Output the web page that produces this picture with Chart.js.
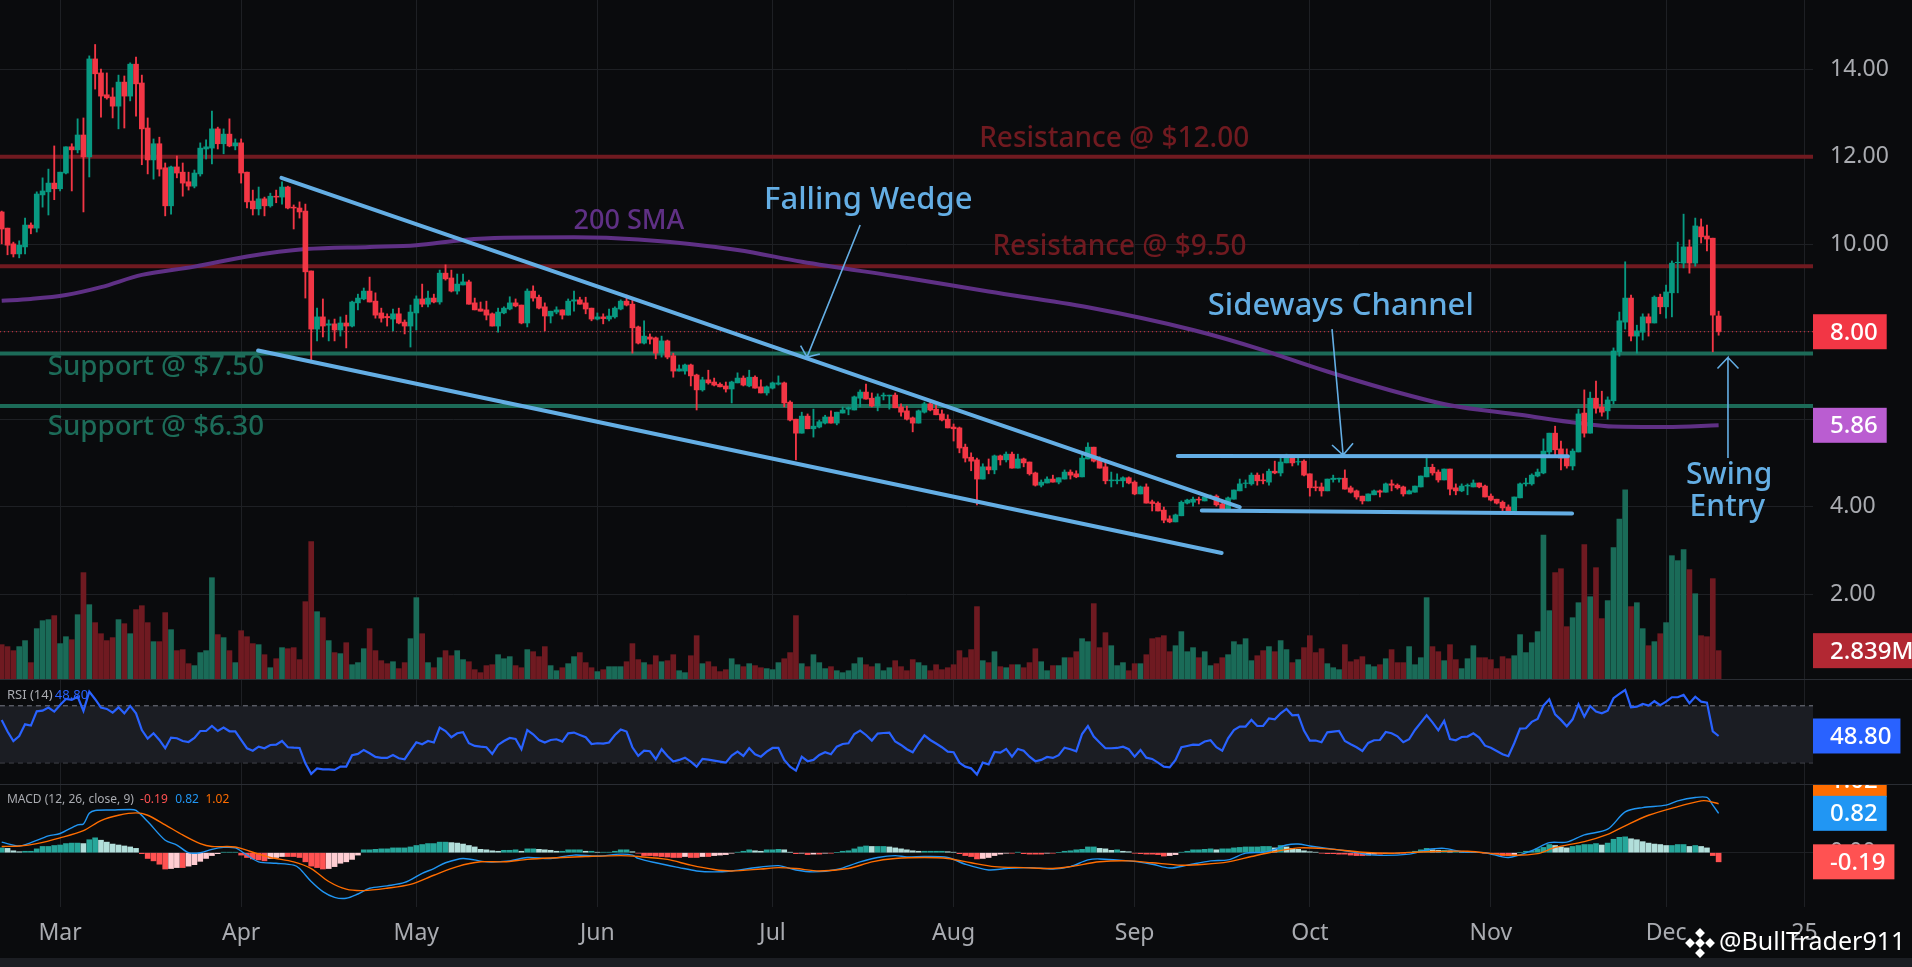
<!DOCTYPE html>
<html>
<head>
<meta charset="utf-8">
<title>BullTrader911 chart</title>
<script src="https://cdn.jsdelivr.net/npm/chart.js@4"></script>
<style>
  html, body { margin: 0; width: 1912px; height: 967px; background: #0a0b0d; overflow: hidden; }
  canvas { position: absolute; left: 0; }
  .rule { position: absolute; left: 0; width: 1912px; height: 1px; background: #2a2d33; }
  .strip { position: absolute; left: 0; top: 958px; width: 1912px; height: 9px; background: #1c1e23; }
</style>
</head>
<body>
<div class="strip"></div>
<canvas id="priceChart" width="1912" height="680" style="top:0"></canvas>
<canvas id="rsiChart" width="1912" height="105" style="top:680px"></canvas>
<canvas id="macdChart" width="1912" height="182" style="top:785px"></canvas>
<div class="rule" style="top:679px"></div>
<div class="rule" style="top:784px"></div>
<script>
// Daily candles, one entry per day starting 20 Feb
const opens = [
  10.74,10.37,10.01,9.78,9.94,10.44,10.37,11.13,11.20,11.40,
  11.27,11.63,12.23,12.16,12.50,12.00,14.24,13.92,13.42,13.37,
  13.16,13.71,13.39,14.12,13.69,12.66,11.93,12.30,11.75,10.88,
  11.77,11.65,11.43,11.33,11.61,12.18,12.20,12.64,12.30,12.52,
  12.25,12.32,11.65,10.99,10.81,11.04,10.88,11.10,11.08,11.31,
  10.85,10.83,10.76,9.39,8.06,8.34,8.15,8.18,8.04,8.20,
  8.13,8.66,8.75,8.93,8.70,8.43,8.35,8.29,8.41,8.22,
  8.13,8.43,8.75,8.63,8.77,8.68,9.34,9.23,8.93,9.07,
  9.14,8.66,8.52,8.50,8.41,8.13,8.43,8.52,8.66,8.61,
  8.20,8.93,8.79,8.57,8.36,8.45,8.50,8.38,8.70,8.73,
  8.66,8.54,8.29,8.34,8.29,8.34,8.52,8.70,8.63,8.11,
  7.74,7.88,7.86,7.51,7.79,7.45,7.10,7.10,7.24,7.01,
  6.67,6.90,6.85,6.80,6.76,6.69,6.83,6.94,6.76,6.96,
  6.74,6.60,6.71,6.80,6.83,6.39,6.00,5.68,6.07,5.78,
  5.82,5.91,6.05,5.91,6.14,6.23,6.21,6.48,6.62,6.48,
  6.30,6.53,6.53,6.55,6.28,6.19,6.03,5.91,6.16,6.35,
  6.23,6.12,6.00,5.82,5.80,5.36,5.13,5.07,4.63,4.91,
  4.84,5.16,5.07,5.20,4.88,5.09,5.02,4.77,4.49,4.54,
  4.63,4.56,4.63,4.79,4.75,4.68,5.09,5.36,5.07,4.91,
  4.59,4.59,4.59,4.66,4.56,4.29,4.45,4.11,4.08,3.92,
  3.72,3.65,3.79,4.08,4.10,4.17,4.13,4.20,4.24,4.06,
  3.95,4.17,4.36,4.53,4.52,4.72,4.61,4.56,4.81,4.77,
  5.00,5.16,5.02,5.04,4.75,4.45,4.45,4.36,4.62,4.63,
  4.65,4.43,4.36,4.24,4.13,4.27,4.36,4.33,4.52,4.49,
  4.45,4.29,4.33,4.45,4.68,4.90,4.79,4.61,4.86,4.43,
  4.36,4.47,4.45,4.54,4.47,4.24,4.17,4.10,3.99,3.90,
  4.20,4.52,4.52,4.70,4.77,5.25,5.68,5.32,5.13,4.93,
  5.25,6.14,5.68,6.48,6.28,6.19,6.42,7.54,8.22,8.77,
  7.90,7.99,8.34,8.20,8.79,8.57,8.89,9.58,9.57,9.94,
  9.57,10.40,10.19,10.14,8.36
];
const highs = [
  10.76,10.37,10.05,10.08,10.60,10.49,11.20,11.52,11.72,12.25,
  11.65,12.23,12.30,12.87,12.89,14.31,14.57,14.01,13.92,13.58,
  13.87,13.85,14.15,14.28,13.87,12.89,12.41,12.45,11.86,11.79,
  12.02,11.86,11.65,11.70,12.32,12.39,13.05,12.68,12.64,12.87,
  12.41,12.41,11.65,11.24,11.31,11.08,11.17,11.24,11.43,11.33,
  10.90,10.97,10.92,9.39,8.54,8.75,8.27,8.29,8.34,8.38,
  8.70,8.86,9.00,9.25,8.89,8.54,8.41,8.52,8.54,8.27,
  8.61,8.82,9.09,8.93,8.86,9.41,9.53,9.41,9.32,9.32,
  9.18,8.77,8.68,8.70,8.43,8.54,8.57,8.80,8.75,8.61,
  8.98,9.05,8.84,8.66,8.47,8.57,8.50,8.75,8.93,8.79,
  8.79,8.54,8.43,8.41,8.52,8.57,8.73,8.84,8.73,8.13,
  8.25,7.95,7.88,7.90,7.81,7.51,7.24,7.26,7.26,7.03,
  6.96,7.12,6.94,6.83,6.85,6.87,7.06,6.99,7.12,6.99,
  6.90,6.76,6.85,6.99,6.85,6.42,6.00,6.16,6.12,6.23,
  5.98,6.09,6.19,6.16,6.28,6.28,6.53,6.67,6.80,6.60,
  6.58,6.60,6.55,6.60,6.35,6.30,6.05,6.21,6.39,6.42,
  6.39,6.21,6.10,5.89,5.82,5.43,5.23,5.11,4.98,5.09,
  5.18,5.18,5.25,5.25,5.20,5.11,5.02,4.79,4.61,4.68,
  4.72,4.66,4.84,4.84,4.82,5.18,5.46,5.36,5.14,5.07,
  4.79,4.75,4.68,4.68,4.59,4.47,4.52,4.15,4.11,3.99,
  3.79,3.83,4.13,4.17,4.22,4.22,4.27,4.27,4.27,4.08,
  4.22,4.38,4.63,4.61,4.77,4.77,4.75,4.86,5.04,5.11,
  5.20,5.18,5.13,5.07,4.75,4.59,4.54,4.63,4.72,4.65,
  4.84,4.47,4.38,4.24,4.29,4.38,4.38,4.54,4.61,4.52,
  4.47,4.38,4.47,4.70,5.18,4.97,4.84,4.86,4.86,4.52,
  4.52,4.52,4.61,4.54,4.49,4.29,4.17,4.13,4.04,4.22,
  4.54,4.65,4.75,4.86,5.55,5.68,5.84,5.50,5.32,5.32,
  6.23,6.67,6.62,6.87,6.64,6.51,7.63,8.45,9.60,8.84,
  8.15,8.41,8.41,8.82,8.86,9.07,9.62,10.05,10.69,10.10,
  10.60,10.58,10.44,10.14,8.47
];
const lows = [
  10.01,9.76,9.71,9.69,9.78,10.24,10.28,10.85,10.67,11.02,
  11.22,11.61,11.22,12.09,10.74,11.54,13.55,12.91,13.32,12.89,
  12.64,12.66,13.28,12.93,11.82,11.61,11.49,11.56,10.65,10.69,
  11.52,11.10,11.24,11.29,11.56,11.95,11.84,12.18,12.07,12.23,
  12.16,11.40,10.83,10.67,10.67,10.65,10.85,10.95,10.92,10.81,
  10.35,10.60,8.77,7.29,7.79,7.88,7.79,7.79,7.90,7.63,
  8.11,8.50,8.73,8.68,8.31,8.22,8.13,8.02,8.18,7.95,
  7.65,8.04,8.57,8.57,8.66,8.63,9.18,8.91,8.86,9.07,
  8.63,8.50,8.47,8.27,8.13,7.99,8.41,8.50,8.57,8.18,
  8.11,8.70,8.52,8.02,8.20,8.41,8.29,8.38,8.47,8.63,
  8.41,8.25,8.27,8.18,8.25,8.31,8.50,8.59,7.51,7.72,
  7.72,7.72,7.38,7.42,7.38,6.96,7.10,7.03,6.76,6.21,
  6.64,6.80,6.76,6.74,6.62,6.37,6.83,6.76,6.74,6.71,
  6.60,6.55,6.69,6.78,6.28,5.96,5.07,5.68,5.78,5.59,
  5.80,5.89,5.91,5.87,6.14,6.10,6.21,6.28,6.46,6.28,
  6.19,6.44,6.23,6.26,6.07,5.98,5.71,5.91,6.14,6.19,
  6.10,5.96,5.80,5.50,5.23,5.02,4.82,4.04,4.63,4.75,
  4.75,4.95,5.02,4.88,4.88,4.91,4.72,4.47,4.45,4.54,
  4.56,4.52,4.63,4.63,4.66,4.68,5.09,5.02,4.88,4.52,
  4.45,4.52,4.45,4.52,4.27,4.29,4.08,3.90,3.90,3.63,
  3.63,3.65,3.79,4.06,4.01,4.06,4.13,4.20,4.01,3.92,
  3.95,4.17,4.36,4.43,4.49,4.49,4.52,4.49,4.75,4.70,
  5.00,4.93,4.95,4.70,4.24,4.36,4.24,4.36,4.56,4.56,
  4.40,4.31,4.17,4.06,4.13,4.27,4.22,4.33,4.36,4.40,
  4.24,4.29,4.33,4.45,4.68,4.72,4.56,4.61,4.27,4.27,
  4.34,4.27,4.45,4.43,4.22,4.13,4.06,3.90,3.83,3.90,
  4.20,4.47,4.49,4.68,4.75,5.18,5.13,4.84,4.88,4.84,
  5.25,5.59,5.68,6.14,6.07,6.00,6.35,7.44,8.06,7.79,
  7.51,7.81,7.90,8.20,8.41,8.31,8.34,8.89,9.46,9.34,
  9.50,10.03,9.85,7.54,7.92
];
const closes = [
  10.35,9.98,9.78,9.98,10.44,10.37,11.15,11.22,11.40,11.27,
  11.65,12.23,12.16,12.50,12.00,14.24,13.90,13.39,13.35,13.16,
  13.71,13.39,14.12,13.67,12.64,11.93,12.30,11.72,10.88,11.77,
  11.63,11.40,11.33,11.63,12.20,12.23,12.64,12.30,12.52,12.25,
  12.32,11.63,10.97,10.81,11.04,10.88,11.10,11.08,11.31,10.83,
  10.83,10.74,9.37,8.06,8.34,8.13,8.18,8.04,8.20,8.13,
  8.68,8.77,8.93,8.68,8.38,8.31,8.32,8.41,8.20,8.13,
  8.45,8.75,8.63,8.77,8.68,9.34,9.21,8.93,9.09,9.14,
  8.63,8.50,8.47,8.38,8.13,8.45,8.54,8.66,8.59,8.20,
  8.93,8.77,8.54,8.36,8.47,8.50,8.38,8.70,8.73,8.63,
  8.52,8.29,8.34,8.30,8.36,8.54,8.70,8.61,8.09,7.74,
  7.90,7.83,7.51,7.79,7.42,7.10,7.15,7.24,6.99,6.67,
  6.90,6.83,6.78,6.74,6.69,6.85,6.94,6.78,6.96,6.71,
  6.60,6.74,6.83,6.83,6.37,5.98,5.68,6.07,5.78,5.84,
  5.94,6.05,5.91,6.16,6.21,6.26,6.51,6.62,6.46,6.30,
  6.51,6.55,6.55,6.26,6.16,6.00,5.91,6.19,6.35,6.21,
  6.10,5.98,5.80,5.78,5.34,5.11,5.04,4.63,4.91,4.84,
  5.16,5.07,5.20,4.88,5.09,5.00,4.75,4.49,4.56,4.63,
  4.56,4.66,4.79,4.72,4.68,5.11,5.36,5.04,4.88,4.59,
  4.61,4.61,4.66,4.54,4.29,4.45,4.08,4.07,3.90,3.69,
  3.65,3.81,4.10,4.15,4.17,4.15,4.22,4.24,4.04,3.95,
  4.20,4.38,4.52,4.54,4.72,4.59,4.59,4.81,4.77,5.02,
  5.16,5.00,5.03,4.72,4.43,4.43,4.36,4.63,4.65,4.65,
  4.40,4.33,4.22,4.13,4.29,4.36,4.33,4.52,4.49,4.43,
  4.29,4.36,4.47,4.70,4.90,4.77,4.61,4.86,4.40,4.36,
  4.47,4.49,4.54,4.45,4.22,4.15,4.08,3.97,3.90,4.22,
  4.52,4.54,4.72,4.79,5.27,5.68,5.30,5.11,4.93,5.27,
  6.12,5.68,6.48,6.25,6.16,6.44,7.56,8.25,8.77,7.90,
  8.02,8.34,8.20,8.79,8.57,8.91,9.57,9.59,9.94,9.57,
  10.42,10.17,10.12,8.38,8.00
];
// Volume in millions
const volumes = [
  3.42,3.23,2.84,3.23,3.81,1.68,4.97,5.74,5.84,6.23,
  3.52,4.19,3.90,6.32,10.39,7.29,5.55,4.48,3.81,4.10,
  5.84,5.45,4.48,6.81,7.19,5.55,3.71,3.71,6.52,4.87,
  2.84,2.94,1.58,1.39,2.65,2.84,9.90,4.39,4.10,2.84,
  1.68,4.77,4.19,3.52,3.42,2.45,1.19,2.06,3.13,3.03,
  3.13,1.97,7.58,13.39,6.61,6.03,3.81,2.65,2.55,3.61,
  1.48,1.68,3.03,4.97,2.84,1.87,1.58,1.77,1.10,1.68,
  4.00,7.97,4.48,1.68,1.19,2.16,2.84,2.35,2.84,1.97,
  1.77,1.00,0.71,1.39,1.48,2.45,2.06,2.26,1.39,1.19,
  2.94,2.74,2.26,3.23,1.39,0.90,1.19,1.58,2.26,2.65,
  1.68,1.19,0.81,1.00,1.29,1.29,1.29,1.77,3.52,1.97,
  1.68,1.48,2.35,1.77,1.87,2.45,0.90,0.71,2.35,4.29,
  1.58,1.77,1.29,0.81,1.00,2.06,1.48,1.29,1.58,1.39,
  1.19,1.10,1.00,1.68,2.06,2.65,6.23,1.58,1.29,2.45,
  1.68,1.10,1.29,0.90,0.71,0.90,1.58,2.16,1.48,1.29,
  1.58,0.90,1.19,1.87,1.29,0.90,1.97,1.68,1.39,0.90,
  1.48,1.00,1.19,1.48,2.84,2.16,2.94,7.10,1.87,1.68,
  2.74,1.29,1.19,1.48,1.48,1.19,1.68,3.03,1.77,0.90,
  1.39,1.39,2.16,2.16,2.74,4.00,3.71,7.39,3.13,4.58,
  3.32,1.39,1.68,0.90,1.58,1.58,2.45,4.00,4.10,4.29,
  2.74,3.32,4.68,2.74,3.13,2.16,2.74,1.39,1.58,2.16,
  2.45,3.71,3.42,4.00,1.87,2.35,2.84,3.23,2.74,3.81,
  2.94,1.68,1.97,3.13,4.29,2.65,3.03,1.58,1.19,1.00,
  3.42,1.77,1.97,2.26,1.48,1.29,1.48,2.06,2.94,1.68,
  1.68,3.23,1.48,2.16,7.97,3.23,2.74,1.87,3.42,1.97,
  1.10,2.06,3.32,2.16,2.16,1.97,1.10,2.26,2.06,2.35,
  4.39,2.65,3.61,4.68,14.03,6.71,10.39,10.77,5.16,6.03,
  7.48,13.10,8.06,10.87,5.94,7.68,12.81,15.58,18.39,7.10,
  7.48,4.97,3.32,3.71,4.48,5.55,12.03,11.55,12.61,10.68,
  8.35,4.29,4.19,9.81,2.839
];
const rsiValues = [
  60.1,51.9,45.3,48.8,57.0,56.1,66.1,66.6,68.7,65.9,
  70.6,74.8,74.1,76.4,66.4,79.9,74.6,68.7,67.8,65.2,
  68.9,64.7,69.9,64.7,53.0,47.0,50.7,46.0,40.2,47.7,
  47.2,45.3,44.6,47.4,52.3,52.3,55.8,52.3,54.7,52.1,
  52.1,46.0,40.2,38.5,41.3,40.2,42.5,42.7,45.3,40.9,
  40.6,40.4,29.6,22.2,26.1,25.4,25.4,25.0,27.3,27.3,
  35.3,36.2,39.0,36.7,34.1,33.4,33.4,35.5,33.2,32.5,
  38.5,44.4,43.0,45.3,44.2,54.7,52.3,47.9,50.7,51.4,
  43.7,41.8,41.3,40.9,36.2,42.5,45.3,47.4,46.7,39.5,
  53.0,50.0,46.0,44.2,46.0,46.5,44.9,50.7,51.2,49.5,
  47.9,43.2,43.7,43.5,44.2,49.5,53.3,51.9,40.9,34.8,
  38.5,38.1,32.5,39.5,34.8,30.8,32.0,33.6,30.8,27.3,
  32.7,32.2,31.5,30.8,30.1,35.0,37.8,34.8,40.2,36.0,
  34.3,37.8,40.4,40.4,32.0,27.3,24.5,34.3,31.1,32.0,
  35.5,37.4,36.0,41.3,43.2,43.7,50.2,52.6,49.5,45.6,
  50.5,50.9,51.2,44.9,42.5,39.5,37.4,43.7,49.3,46.0,
  43.5,40.9,37.8,37.4,30.1,27.3,26.1,21.7,30.1,28.9,
  37.6,37.1,39.7,34.3,39.7,38.5,34.3,31.1,32.0,34.1,
  33.4,35.3,40.6,39.5,38.1,50.2,55.8,48.4,44.2,40.2,
  40.2,40.4,41.3,39.5,34.3,39.0,33.6,32.7,30.1,27.3,
  26.8,32.0,40.9,41.8,42.7,42.5,44.9,45.8,40.9,38.5,
  47.2,53.0,55.4,55.4,60.1,55.8,55.8,61.2,60.5,64.7,
  67.8,63.3,63.6,52.6,45.6,45.6,44.4,51.4,51.9,52.3,
  45.3,43.0,40.9,38.3,43.9,45.8,46.0,51.6,50.7,48.6,
  44.4,46.5,53.0,58.2,63.3,58.4,52.8,59.4,46.7,45.8,
  48.1,48.4,50.7,47.7,42.0,40.6,38.3,36.0,34.6,43.7,
  54.0,54.2,58.7,60.8,70.1,74.6,64.0,60.1,55.6,60.5,
  71.1,62.4,69.9,65.9,64.7,66.6,75.3,78.3,81.1,68.9,
  69.4,71.3,70.1,73.2,70.4,72.9,76.0,76.0,77.6,71.8,
  76.4,72.9,72.2,52.1,48.8
];
const histValues = [
  .10,.09,.04,.02,.03,.03,.08,.13,.13,.15,
  .16,.19,.20,.20,.19,.27,.31,.26,.22,.18,
  .16,.14,.12,.09,-.02,-.12,-.17,-.24,-.34,-.33,
  -.31,-.31,-.28,-.25,-.18,-.12,-.06,-.02,.01,.01,
  .01,-.05,-.10,-.13,-.15,-.17,-.12,-.10,-.08,-.08,
  -.08,-.10,-.19,-.28,-.31,-.34,-.33,-.29,-.22,-.19,
  -.14,-.05,.06,.06,.07,.08,.08,.10,.10,.10,
  .12,.15,.17,.19,.19,.22,.22,.21,.20,.18,
  .15,.12,.07,.06,.04,.03,.05,.05,.06,.03,
  .08,.08,.07,.06,.05,.03,.03,.06,.06,.06,
  .03,.03,.01,.01,.01,.03,.06,.06,.02,-.01,
  -.06,-.06,-.07,-.08,-.09,-.10,-.10,-.08,-.10,-.10,
  -.08,-.08,-.06,-.05,-.04,-.01,.01,.03,.06,.04,
  .03,.06,.06,.07,.06,.01,-.02,-.01,-.04,-.03,
  -.03,-.01,-.01,0,.03,.04,.08,.12,.14,.13,
  .13,.13,.12,.10,.08,.06,.04,.03,.03,.03,
  .03,.03,.02,.01,-.02,-.06,-.08,-.13,-.12,-.10,
  -.06,-.03,-.01,-.01,.01,-.02,-.03,-.03,-.03,-.01,
  -.01,0,.03,.04,.06,.07,.12,.12,.09,.08,
  .05,.06,.03,.02,-.01,-.02,-.03,-.03,-.04,-.07,
  -.06,-.04,.01,.03,.06,.06,.07,.08,.06,.08,
  .08,.10,.11,.12,.12,.12,.13,.13,.10,.15,
  .12,.09,.07,.04,.02,.01,-.01,-.02,-.02,-.03,
  -.03,-.05,-.06,-.06,-.05,-.03,-.03,-.02,-.02,-.01,
  -.01,.01,.03,.06,.09,.06,.05,.05,.04,.04,
  .03,.01,0,0,-.01,-.02,-.02,-.06,-.06,-.04,
  0,.03,.03,.08,.11,.17,.15,.12,.10,.13,
  .15,.17,.17,.19,.16,.20,.28,.32,.33,.29,
  .27,.23,.20,.18,.17,.15,.15,.17,.17,.13,
  .15,.13,.10,-.06,-.19
];
const macdDays = [0,3,5,8,10,13,14,15,16,19,22,23,25,28,30,32,34,36,38,40,42,44,47,50,51,53,55,57,59,61,63,66,69,72,74,76,79,83,87,90,94,98,102,106,108,109,112,116,119,122,125,128,133,136,139,143,147,150,153,155,158,162,165,169,172,176,180,183,186,188,193,197,200,203,207,210,213,216,218,220,222,224,230,235,241,244,247,250,254,258,262,265,268,271,275,278,281,285,287,290,292,293,294];
const macdValues = [.22,.14,.21,.35,.40,.58,.60,.82,.88,.89,.90,.88,.65,.26,.16,0,0,.07,.11,.10,-.05,-.19,-.22,-.26,-.33,-.60,-.81,-.93,-.95,-.86,-.74,-.69,-.62,-.43,-.33,-.21,-.12,-.19,-.17,-.10,-.12,-.05,-.07,-.03,-.05,-.12,-.21,-.31,-.38,-.40,-.38,-.33,-.27,-.36,-.40,-.35,-.19,-.10,-.06,-.09,-.08,-.10,-.24,-.36,-.33,-.31,-.34,-.29,-.15,-.13,-.17,-.24,-.32,-.26,-.17,-.15,-.01,.01,.07,.16,.18,.14,.04,-.05,-.03,.06,.09,.02,0,-.10,.04,.21,.22,.37,.49,.85,.94,.99,1.08,1.15,1.15,.99,.82];
const signalDays = [0,3,6,10,14,17,20,23,25,28,31,34,36,40,43,46,50,53,56,59,62,66,70,74,78,82,86,90,94,100,106,109,114,118,122,125,130,133,136,140,145,149,153,158,162,166,170,175,180,183,188,193,197,202,206,210,214,217,222,227,233,238,244,251,258,263,266,271,275,278,282,287,291,292,294];
const signalValues = [.13,.14,.19,.31,.46,.67,.78,.83,.78,.58,.37,.19,.13,.12,.01,-.10,-.19,-.33,-.60,-.76,-.79,-.74,-.66,-.47,-.29,-.19,-.19,-.14,-.11,-.08,-.06,-.08,-.14,-.26,-.35,-.38,-.34,-.31,-.33,-.38,-.33,-.19,-.12,-.10,-.12,-.21,-.29,-.31,-.33,-.29,-.19,-.17,-.21,-.26,-.24,-.19,-.08,0,.10,.08,.01,-.01,.02,.03,-.05,-.02,.11,.23,.38,.56,.78,.96,1.08,1.08,1.02];
const smaDays = [0,5,11,17,24,33,42,52,63,71,79,86,98,109,126,137,155,169,186,204,216,218,227,237,248,260,270,276,285,294];
const smaValues = [8.71,8.75,8.84,9.02,9.30,9.49,9.72,9.89,9.94,9.98,10.10,10.15,10.16,10.11,9.87,9.60,9.23,8.92,8.56,8.04,7.58,7.49,7.09,6.69,6.32,6.10,5.91,5.83,5.82,5.86];

// Levels and drawings on the price pane, as [day, price]
const resistanceLevels = [12.00, 9.50];
const supportLevels = [7.50, 6.30];
const lastPrice = 8.00;
const wedgeTop = [[47.9,11.52],[212.0,3.99]];
const wedgeBottom = [[43.9,7.57],[208.9,2.94]];
const channelTop = [[201.4,5.16],[268.2,5.15]];
const channelBottom = [[205.5,3.91],[268.9,3.84]];
const wedgeArrow = [[147,10.44],[137.9,7.42],[136.8,7.68],[137.9,7.42],[140.1,7.49]];
const channelArrow = [[227.8,8.06],[229.7,5.18],[227.8,5.41],[229.7,5.18],[231.4,5.45]];
const entryArrow = [[295.6,5.11],[295.6,7.41],[293.8,7.16],[295.6,7.41],[297.4,7.16]];

const tickDays = [10,41,71,102,132,163,194,224,255,285,308.7];
const tickLabels = ['Mar','Apr','May','Jun','Jul','Aug','Sep','Oct','Nov','Dec','25'];
const priceTicks = [2,4,6,8,10,12,14];

const FONT = '"Noto Sans", sans-serif';
const GRID = '#1e2024';
const AXIS_TEXT = '#a9abb0';
const UP = '#089981', DOWN = '#f23645';
const UP_VOL = '#1a6b58', DOWN_VOL = '#6f1a21';
const BLUE = '#64aee4';
const RES = '#701a20', SUP = '#1c6b58';

const days = opens.map((_, i) => i);
const isUp = days.map(i => closes[i] >= opens[i]);

function pairs(list) {
    return list.map(p => ({x: p[0], y: p[1]}));
}

function lineSet(data, color, width, order, extra) {
    return Object.assign({
        type: 'line',
        data: data,
        borderColor: color,
        borderWidth: width,
        pointRadius: 0,
        fill: false,
        order: order
    }, extra || {});
}

function flatLine(value, color, width, order, extra) {
    return lineSet([{x: -0.3, y: value}, {x: 311, y: value}], color, width, order, extra);
}

// Chart.js adds room for half a tick label at the ends, the panes must fill the canvas
function noPadding(s) {
    s.paddingTop = 0;
    s.paddingBottom = 0;
    s.paddingLeft = 0;
    s.paddingRight = 0;
}

function dayAxis(showLabels) {
    return {
        type: 'linear',
        offset: false,
        min: -0.29,
        max: 310.16,
        afterBuildTicks: s => { s.ticks = tickDays.map(v => ({value: v})); },
        afterFit: s => { noPadding(s); if (showLabels) s.height = 51; },
        grid: {color: GRID, drawTicks: false, offset: false},
        border: {display: false},
        ticks: {
            display: showLabels,
            autoSkip: false,
            maxRotation: 0,
            padding: 13,
            color: AXIS_TEXT,
            font: {family: FONT, size: 23},
            callback: v => tickLabels[tickDays.indexOf(v)]
        }
    };
}

function valueAxis(min, max, ticks, showLabels) {
    return {
        position: 'right',
        min: min,
        max: max,
        afterBuildTicks: s => { s.ticks = ticks.map(v => ({value: v})); },
        afterFit: s => { noPadding(s); s.width = 99; },
        grid: {color: GRID, drawTicks: false},
        border: {display: false},
        ticks: {
            display: showLabels,
            padding: 17,
            color: AXIS_TEXT,
            font: {family: FONT, size: 23},
            callback: v => v.toFixed(2)
        }
    };
}

// Text labels and the coloured price tags on the right axis
const paneOverlay = {
    id: 'paneOverlay',
    afterDraw(chart, args, opts) {
        const ctx = chart.ctx;
        ctx.save();
        ctx.textBaseline = 'middle';
        (opts.texts || []).forEach(t => {
            ctx.font = t.font;
            ctx.fillStyle = t.color;
            ctx.textAlign = t.align || 'center';
            ctx.fillText(t.text, chart.scales.x.getPixelForValue(t.day), chart.scales.y.getPixelForValue(t.value));
        });
        ctx.font = '500 24px ' + FONT;
        ctx.textAlign = 'left';
        (opts.tags || []).forEach(t => {
            const left = chart.chartArea.right;
            const mid = chart.scales[t.axisId || 'y'].getPixelForValue(t.value) + (t.nudge || 0);
            ctx.fillStyle = t.color;
            ctx.fillRect(left, mid - 17.5, ctx.measureText(t.text).width + 26, 35);
            ctx.fillStyle = '#ffffff';
            ctx.fillText(t.text, left + 17, mid + 1);
        });
        if (opts.watermark) {
            ctx.fillStyle = '#ffffff';
            ctx.font = '25px ' + FONT;
            ctx.fillText(opts.watermark, 1719, 158);
            [[0, -10], [-10, 0], [10, 0], [0, 10], [0, 0]].forEach(c => {
                ctx.save();
                ctx.translate(1700 + c[0], 158 + c[1]);
                ctx.rotate(Math.PI / 4);
                ctx.fillRect(-3.5, -3.5, 7, 7);
                ctx.restore();
            });
        }
        ctx.restore();
    }
};
Chart.register(paneOverlay);

function baseOptions(scales, overlay) {
    return {
        responsive: false,
        devicePixelRatio: 1,
        animation: false,
        events: [],
        layout: {padding: 0},
        scales: scales,
        plugins: {legend: {display: false}, tooltip: {enabled: false}, paneOverlay: overlay}
    };
}

// Price pane with the volume bars underneath
const bigFont = '500 28px ' + FONT;
const blueFont = '500 31px ' + FONT;
new Chart(document.getElementById('priceChart'), {
    type: 'bar',
    data: {
        datasets: [
            lineSet(pairs(wedgeTop), BLUE, 4, 1, {borderCapStyle: 'round'}),
            lineSet(pairs(wedgeBottom), BLUE, 4, 1, {borderCapStyle: 'round'}),
            lineSet(pairs(channelTop), BLUE, 4, 1, {borderCapStyle: 'round'}),
            lineSet(pairs(channelBottom), BLUE, 4, 1, {borderCapStyle: 'round'}),
            lineSet(pairs(wedgeArrow), BLUE, 1.6, 1),
            lineSet(pairs(channelArrow), BLUE, 1.6, 1),
            lineSet(pairs(entryArrow), BLUE, 1.6, 1),
            {
                type: 'bar', grouped: false, order: 3, barThickness: 5,
                data: days.map(i => ({x: i, y: [opens[i], closes[i]]})),
                backgroundColor: days.map(i => isUp[i] ? UP : DOWN)
            },
            {
                type: 'bar', grouped: false, order: 4, barThickness: 1.2,
                data: days.map(i => ({x: i, y: [lows[i], highs[i]]})),
                backgroundColor: days.map(i => isUp[i] ? UP : DOWN)
            },
            lineSet(smaDays.map((d, i) => ({x: d, y: smaValues[i]})), '#5f3085', 4, 5, {tension: 0.4, cubicInterpolationMode: 'monotone'}),
            flatLine(lastPrice, DOWN, 1, 6, {borderDash: [1, 3]}),
            flatLine(resistanceLevels[0], RES, 4, 7),
            flatLine(resistanceLevels[1], RES, 4, 7),
            flatLine(supportLevels[0], SUP, 4, 7),
            flatLine(supportLevels[1], SUP, 4, 7),
            {
                type: 'bar', grouped: false, order: 8, barThickness: 5, yAxisID: 'yVol',
                data: days.map(i => ({x: i, y: volumes[i]})),
                backgroundColor: days.map(i => isUp[i] ? UP_VOL : DOWN_VOL)
            }
        ]
    },
    options: baseOptions({
        x: dayAxis(false),
        y: valueAxis(0.034, 15.588, priceTicks, true),
        yVol: {display: false, min: 0, max: 65.8}
    }, {
        texts: [
            {text: 'Resistance @ $12.00', day: 190.5, value: 12.40, font: bigFont, color: RES},
            {text: 'Resistance @ $9.50', day: 191.4, value: 9.94, font: bigFont, color: RES},
            {text: 'Support @ $7.50', day: 26.4, value: 7.18, font: '500 27.7px ' + FONT, color: SUP},
            {text: 'Support @ $6.30', day: 26.4, value: 5.82, font: '500 27.7px ' + FONT, color: SUP},
            {text: '200 SMA', day: 107.4, value: 10.53, font: '500 27px ' + FONT, color: '#5f3085'},
            {text: 'Falling Wedge', day: 148.4, value: 11.01, font: blueFont, color: BLUE},
            {text: 'Sideways Channel', day: 229.3, value: 8.58, font: blueFont, color: BLUE},
            {text: 'Swing', day: 295.8, value: 4.71, font: '500 30px ' + FONT, color: BLUE},
            {text: 'Entry', day: 295.5, value: 3.99, font: '500 30px ' + FONT, color: BLUE}
        ],
        tags: [
            {text: '8.00', value: lastPrice, color: DOWN},
            {text: '5.86', value: 5.86, color: '#ba5dd1'},
            {text: '2.839M', value: 2.839, axisId: 'yVol', color: '#b22833'}
        ]
    })
});

// RSI pane
new Chart(document.getElementById('rsiChart'), {
    type: 'line',
    data: {
        datasets: [
            lineSet(days.map(i => ({x: i, y: rsiValues[i]})), '#2962ff', 2.2, 1),
            flatLine(70, '#787b86', 1, 2, {borderDash: [5, 4], fill: '+1', backgroundColor: '#1b1d23'}),
            flatLine(30, '#787b86', 1, 2, {borderDash: [5, 4]})
        ]
    },
    options: baseOptions({
        x: dayAxis(false),
        y: valueAxis(14.4, 88.1, [50], false)
    }, {
        texts: [
            {text: 'RSI (14)', day: 0.9, value: 77.6, font: '13px ' + FONT, color: '#a9abb0', align: 'left'},
            {text: '48.80', day: 9.1, value: 77.6, font: '13px ' + FONT, color: '#2962ff', align: 'left'}
        ],
        tags: [{text: '48.80', value: 48.8, color: '#2962ff'}]
    })
});

// MACD pane
function histColor(i) {
    const v = histValues[i], prev = i > 0 ? histValues[i - 1] : 0;
    if (v >= 0) return v >= prev ? '#26a69a' : '#b2dfdb';
    return v <= prev ? '#ff5252' : '#ffcdd2';
}

new Chart(document.getElementById('macdChart'), {
    type: 'bar',
    data: {
        datasets: [
            lineSet(signalDays.map((d, i) => ({x: d, y: signalValues[i]})), '#ff6d00', 1.4, 1, {tension: 0.3}),
            lineSet(macdDays.map((d, i) => ({x: d, y: macdValues[i]})), '#2196f3', 1.4, 2, {tension: 0.3}),
            {
                type: 'bar', grouped: false, order: 3, barThickness: 5,
                data: days.map(i => ({x: i, y: histValues[i]})),
                backgroundColor: days.map(histColor)
            }
        ]
    },
    options: Object.assign(baseOptions({
        x: dayAxis(true),
        y: valueAxis(-1.131, 1.41, [0], true)
    }, {
        texts: [
            {text: 'MACD (12, 26, close, 9)', day: 0.9, value: 1.10, font: '12px ' + FONT, color: '#a9abb0', align: 'left'},
            {text: '-0.19', day: 23.7, value: 1.10, font: '12px ' + FONT, color: '#ff5252', align: 'left'},
            {text: '0.82', day: 29.7, value: 1.10, font: '12px ' + FONT, color: '#2196f3', align: 'left'},
            {text: '1.02', day: 34.9, value: 1.10, font: '12px ' + FONT, color: '#ff6d00', align: 'left'}
        ],
        tags: [
            {text: '1.02', value: 1.02, nudge: -24, color: '#ff6d00'},
            {text: '0.82', value: 0.82, color: '#2196f3'},
            {text: '-0.19', value: -0.19, color: '#ff5252'}
        ],
        watermark: '@BullTrader911'
    }), {layout: {padding: {bottom: 9}}})
});
</script>
</body>
</html>
